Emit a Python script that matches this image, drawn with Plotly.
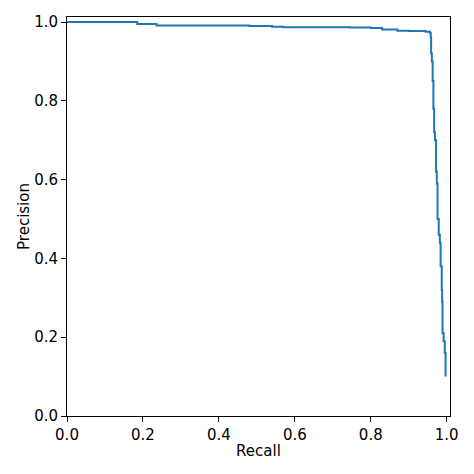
import plotly.graph_objects as go

recall = [0.0, 0.185, 0.236, 0.345, 0.48, 0.54, 0.57, 0.745, 0.80, 0.83, 0.87, 0.90, 0.945, 0.956,
          0.958, 0.959, 0.961, 0.963, 0.965, 0.967, 0.969, 0.972, 0.974, 0.976, 0.979, 0.982,
          0.984, 0.987, 0.988, 0.989, 0.992, 0.995, 0.997]
precision = [1.0, 0.995, 0.991, 0.991, 0.990, 0.988, 0.987, 0.986, 0.985, 0.981, 0.978, 0.977, 0.975, 0.972,
             0.96, 0.92, 0.90, 0.85, 0.78, 0.72, 0.70, 0.62, 0.59, 0.50, 0.46, 0.44,
             0.38, 0.32, 0.29, 0.21, 0.19, 0.16, 0.10]

ticks = [0.0, 0.2, 0.4, 0.6, 0.8, 1.0]
tick_text = ["0.0", "0.2", "0.4", "0.6", "0.8", "1.0"]

FS = 15

fig = go.Figure()
fig.add_trace(go.Scatter(x=recall, y=precision, mode="lines", line_shape="hv",
                         line=dict(color="#1f77b4", width=2), showlegend=False))

axis_common = dict(showgrid=False, zeroline=False, showline=True, mirror=True,
                   linecolor="black", linewidth=1, ticks="outside", ticklen=5,
                   tickcolor="black", tickwidth=1, tickvals=ticks, ticktext=tick_text,
                   tickfont=dict(family="DejaVu Sans", size=FS, color="black"))

fig.update_layout(
    width=474, height=474,
    margin=dict(l=67, r=24, t=17, b=58),
    paper_bgcolor="white", plot_bgcolor="white",
    xaxis=dict(range=[0, 1.0087], title=dict(text="Recall", standoff=2,
               font=dict(family="DejaVu Sans", size=FS, color="black")), **axis_common),
    yaxis=dict(range=[0, 1.0127], title=dict(text="Precision", standoff=0,
               font=dict(family="DejaVu Sans", size=FS, color="black")), **axis_common),
)

fig.write_html("out.html")
